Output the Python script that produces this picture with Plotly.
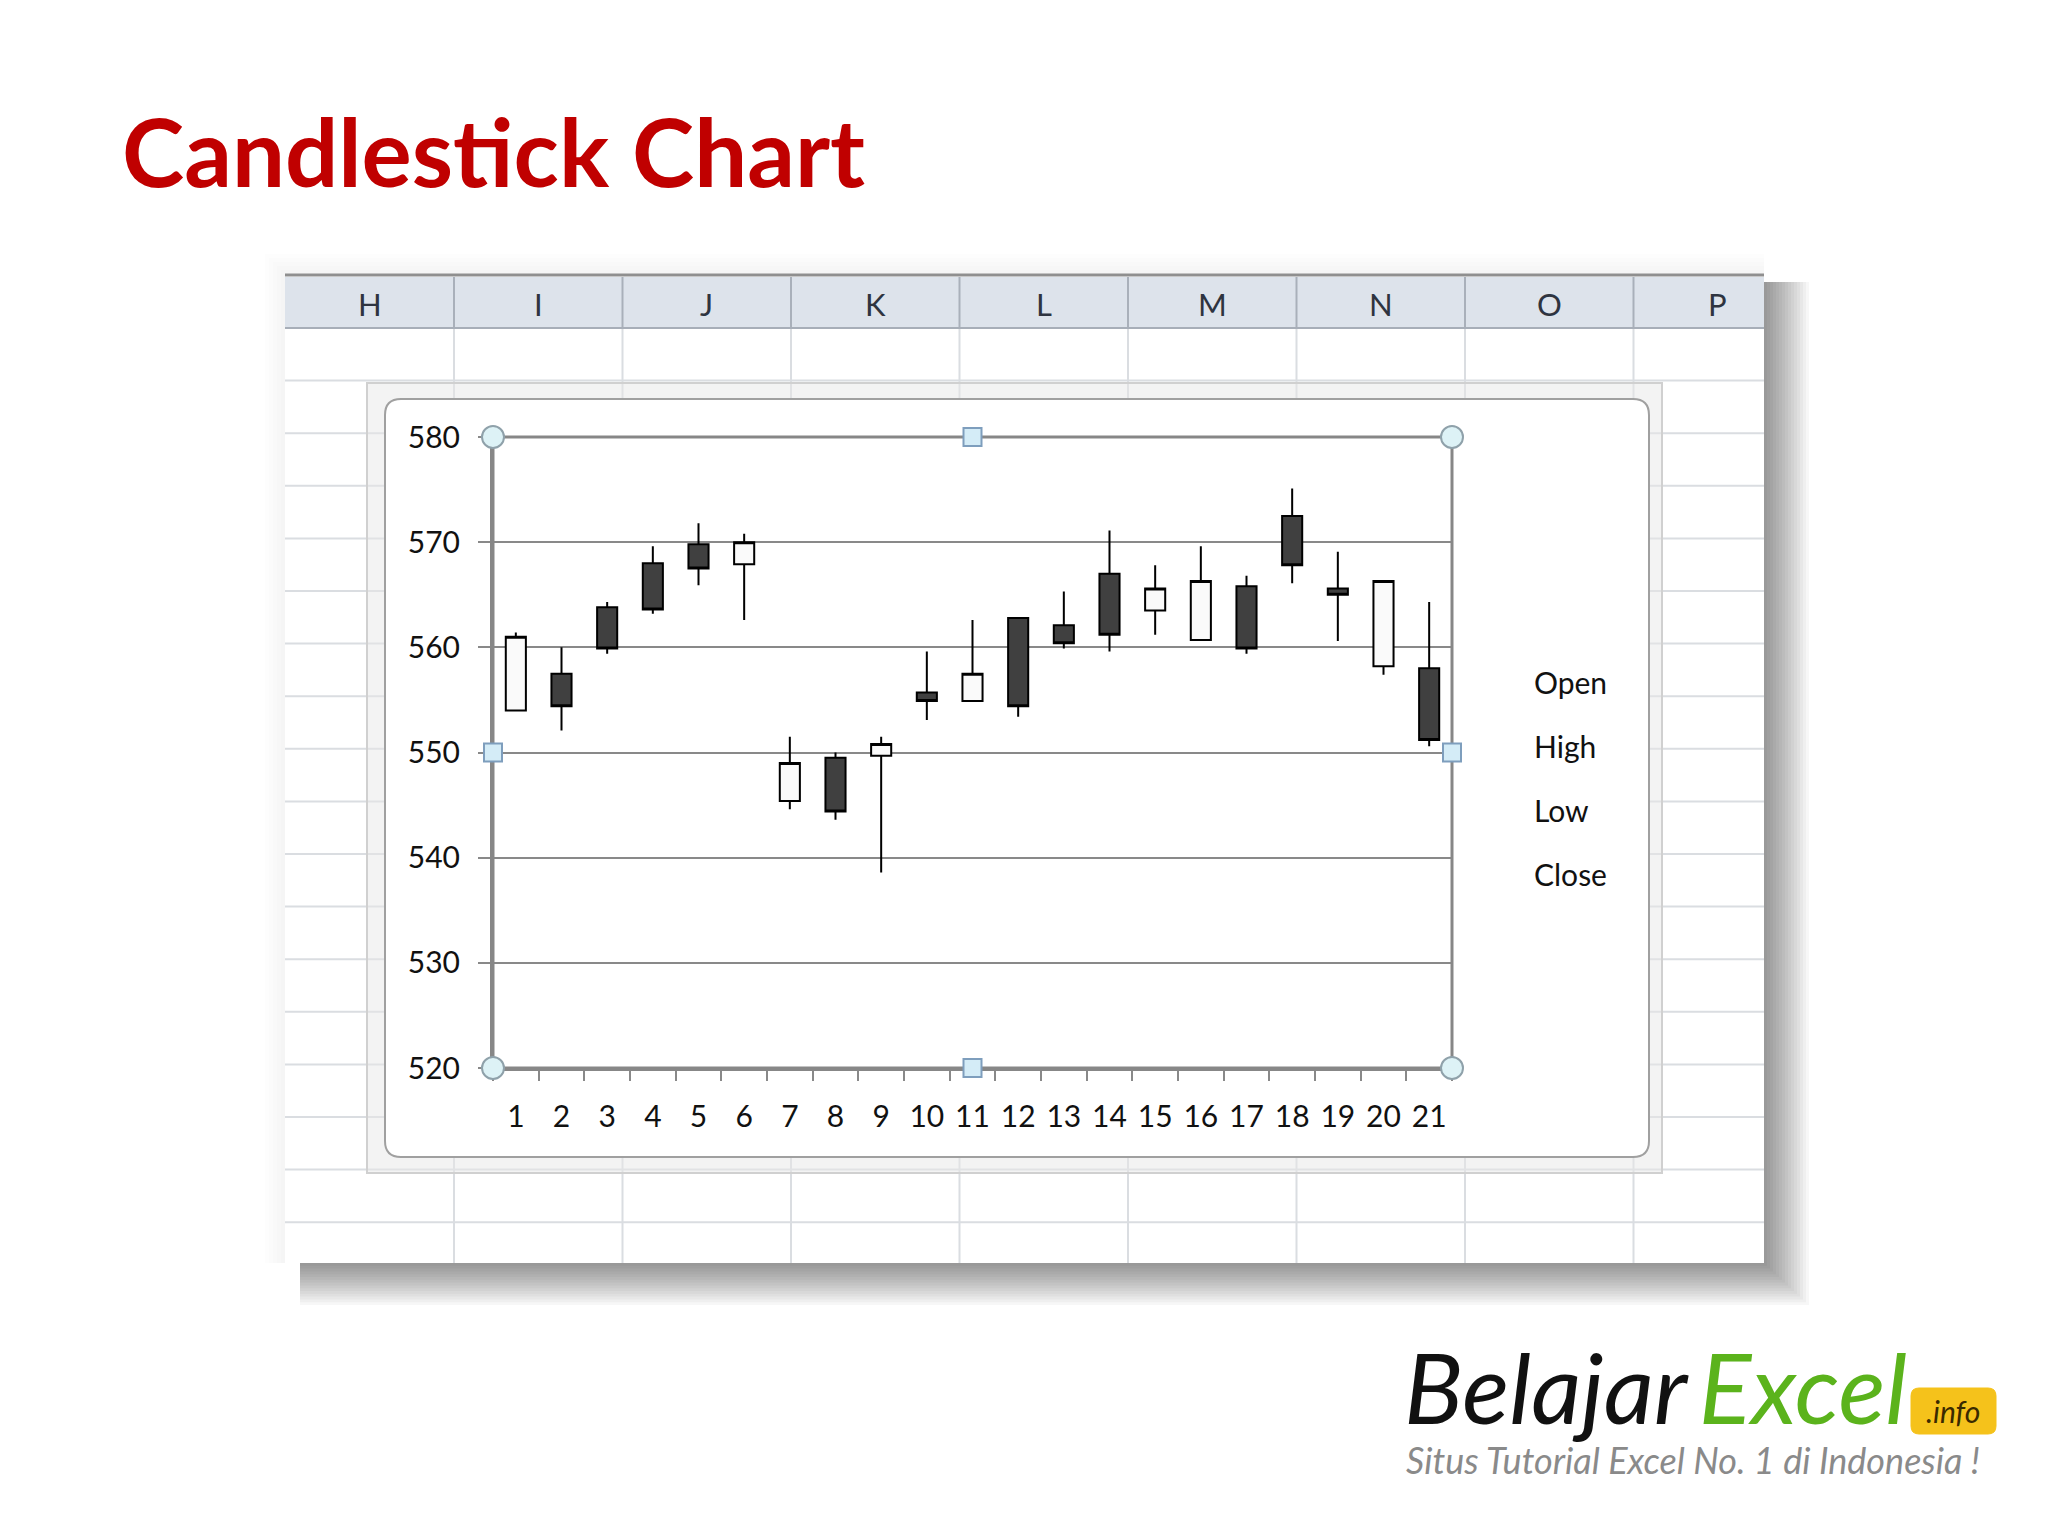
import plotly.graph_objects as go

# candle data (21 periods)
days = [str(i) for i in range(1, 22)]
open_ = [554.0, 557.5, 563.8, 568.0, 569.8, 567.9, 545.4, 549.5, 549.7, 555.7, 554.9,
         562.8, 562.1, 567.0, 563.5, 560.7, 565.8, 572.5, 565.6, 558.2, 558.0]
high = [561.4, 560.0, 564.3, 569.6, 571.8, 570.8, 551.5, 550.0, 551.5, 559.6, 562.6,
        562.8, 565.3, 571.1, 567.8, 569.6, 566.8, 575.1, 569.1, 566.3, 564.3]
low = [553.9, 552.1, 559.4, 563.2, 565.9, 562.6, 544.6, 543.6, 538.6, 553.1, 554.9,
       553.4, 559.9, 559.6, 561.2, 560.7, 559.4, 566.1, 560.6, 557.4, 550.6]
close = [561.0, 554.4, 559.9, 563.6, 567.5, 570.0, 549.0, 544.4, 550.8, 554.9, 557.5,
         554.4, 560.4, 561.2, 565.6, 566.3, 559.9, 567.8, 565.0, 566.3, 551.2]

legend_names = ['Open', 'High', 'Low', 'Close']
col_letters = ['H', 'I', 'J', 'K', 'L', 'M', 'N', 'O', 'P']

W, H = 2048, 1536
OFF = 8  # page body margin
# plot area in page pixels
PL, PR, PT, PB = 493, 1452, 437, 1068
FONT = 'Lato, Carlito, Calibri, sans-serif'


def px(X):
    return (X - PL) / (PR - PL)


def py(Y):
    return (PB - Y) / (PB - PT)


def rect(x0, y0, x1, y1, fill=None, line=None, lw=0, layer='below'):
    return dict(type='rect', xref='paper', yref='paper',
                x0=px(x0), x1=px(x1), y0=py(y0), y1=py(y1),
                fillcolor=fill, line=dict(color=line, width=lw), layer=layer)


def seg(x0, y0, x1, y1, color, lw, layer='below'):
    return dict(type='line', xref='paper', yref='paper',
                x0=px(x0), x1=px(x1), y0=py(y0), y1=py(y1),
                line=dict(color=color, width=lw), layer=layer)


def rounded(x0, y0, x1, y1, r, fill, line, lw, layer='below'):
    pts = lambda X, Y: '%f,%f' % (px(X), py(Y))
    path = ('M' + pts(x0 + r, y0) + ' L' + pts(x1 - r, y0) + ' Q' + pts(x1, y0) + ' ' + pts(x1, y0 + r) +
            ' L' + pts(x1, y1 - r) + ' Q' + pts(x1, y1) + ' ' + pts(x1 - r, y1) +
            ' L' + pts(x0 + r, y1) + ' Q' + pts(x0, y1) + ' ' + pts(x0, y1 - r) +
            ' L' + pts(x0, y0 + r) + ' Q' + pts(x0, y0) + ' ' + pts(x0 + r, y0) + ' Z')
    return dict(type='path', xref='paper', yref='paper', path=path,
                fillcolor=fill, line=dict(color=line, width=lw), layer=layer)


fig = go.Figure()

fig.add_trace(go.Candlestick(
    x=days, open=open_, high=high, low=low, close=close,
    increasing=dict(fillcolor='#FAFAFA', line=dict(color='#000000', width=2)),
    decreasing=dict(fillcolor='#404040', line=dict(color='#000000', width=2)),
    whiskerwidth=0, showlegend=False, hoverinfo='skip'))

shapes = []

# soft glow around the sheet, then the drop shadow
for i in range(6):
    shapes.append(rect(285 - i * 4, 274 - i * 4, 1764, 1263, fill='rgba(0,0,0,0.008)'))
for i in range(16):
    shapes.append(rect(300, 282, 1764 + i * 3.0, 1263 + i * 2.8, fill='rgba(0,0,0,0.03)'))

# spreadsheet
SX0, SX1, SY0, SY1 = 285, 1764, 274, 1263
shapes.append(rect(SX0, SY0, SX1, SY1, fill='white'))
shapes.append(rect(SX0, 277, SX1, 328, fill='#DDE3EB'))
col_w = 168.5
col_edges = [454 + col_w * k for k in range(8)]
row_h = 52.6
for k in range(1, 18):
    Y = 328 + row_h * k
    shapes.append(seg(SX0, Y, SX1, Y, '#DADDE1', 2))
for X in col_edges:
    shapes.append(seg(X, 328, X, SY1, '#DADDE1', 2))
    shapes.append(seg(X, 277, X, 328, '#A9B0BA', 2))
shapes.append(seg(SX0, 275, SX1, 275, '#8F8F8F', 3))
shapes.append(seg(SX0, 328, SX1, 328, '#A7AEB8', 2))

# chart object frame and chart area
shapes.append(rect(367, 383, 1662, 1173, fill='rgba(232,232,232,0.5)', line='#D0D0D0', lw=2))
shapes.append(rounded(385, 399, 1649, 1157, 16, 'white', '#A0A0A0', 2))

# plot area border (selected)
shapes.append(dict(type='rect', xref='paper', yref='paper', x0=0, x1=1, y0=0, y1=1,
                   line=dict(color='#878787', width=3), layer='above'))

# selection handles
for hx, hy in [(0, 1), (1, 1), (0, 0), (1, 0)]:
    shapes.append(dict(type='circle', xref='paper', yref='paper', xsizemode='pixel', ysizemode='pixel',
                       xanchor=hx, yanchor=hy, x0=-11, x1=11, y0=-11, y1=11,
                       fillcolor='#DDF2F6', line=dict(color='#8FA1AA', width=2), layer='above'))
for hx, hy in [(0.5, 1), (0.5, 0), (0, 0.5), (1, 0.5)]:
    shapes.append(dict(type='rect', xref='paper', yref='paper', xsizemode='pixel', ysizemode='pixel',
                       xanchor=hx, yanchor=hy, x0=-9, x1=9, y0=-9, y1=9,
                       fillcolor='#D4ECF7', line=dict(color='#7E9EBD', width=2), layer='above'))

# .info badge
shapes.append(rounded(1911, 1388, 1996, 1434, 8, '#F5C21B', '#F5C21B', 1, layer='above'))

annotations = []
annotations.append(dict(text='<b>Candlestick Chart</b>', x=px(120), y=py(150), xref='paper', yref='paper',
                        xanchor='left', yanchor='middle', showarrow=False,
                        font=dict(family=FONT, size=94, color='#C00000')))
for i, letter in enumerate(col_letters):
    left = SX0 if i == 0 else col_edges[i - 1]
    right = col_edges[i] if i < len(col_edges) else left + col_w
    annotations.append(dict(text=letter, x=px((left + right) / 2), y=py(304), xref='paper', yref='paper',
                            xanchor='center', yanchor='middle', showarrow=False,
                            font=dict(family=FONT, size=31, color='#2E3440')))
for i, name in enumerate(legend_names):
    annotations.append(dict(text=name, x=px(1532), y=py(682 + i * 64), xref='paper', yref='paper',
                            xanchor='left', yanchor='middle', showarrow=False,
                            font=dict(family=FONT, size=30, color='#111111')))
annotations.append(dict(text="<i>Belajar&#8201;<span style='color:#5BB31C'>Excel</span></i>",
                        x=px(1402), y=py(1386), xref='paper', yref='paper',
                        xanchor='left', yanchor='middle', showarrow=False,
                        font=dict(family=FONT, size=98, color='#111111')))
annotations.append(dict(text='<i>.info</i>', x=px(1953), y=py(1411), xref='paper', yref='paper',
                        xanchor='center', yanchor='middle', showarrow=False,
                        font=dict(family=FONT, size=30, color='#3A2A00')))
annotations.append(dict(text='<i>Situs Tutorial Excel No. 1 di Indonesia !</i>',
                        x=px(1404), y=py(1460), xref='paper', yref='paper',
                        xanchor='left', yanchor='middle', showarrow=False,
                        font=dict(family=FONT, size=36, color='#8A8A8A')))

fig.update_layout(
    width=W, height=H,
    margin=dict(l=PL - OFF, r=W - PR + OFF, t=PT - OFF, b=H - PB + OFF, autoexpand=False),
    paper_bgcolor='white', plot_bgcolor='rgba(0,0,0,0)',
    showlegend=False, boxgap=0.56, boxgroupgap=0,
    shapes=shapes, annotations=annotations,
    font=dict(family=FONT, size=30, color='#111111'),
)
fig.update_xaxes(type='category', rangeslider_visible=False, showgrid=False,
                 ticks='outside', ticklen=10, tickwidth=2, tickcolor='#898989',
                 tickson='boundaries', ticklabelstandoff=20,
                 showline=True, linecolor='#878787', linewidth=3,
                 tickfont=dict(family=FONT, size=30, color='#111111'))
fig.update_yaxes(range=[520, 580], dtick=10, showgrid=True, gridcolor='#898989', gridwidth=2,
                 ticks='outside', ticklen=12, tickwidth=2, tickcolor='#898989',
                 ticklabelstandoff=12, zeroline=False,
                 showline=True, linecolor='#878787', linewidth=3,
                 tickfont=dict(family=FONT, size=30, color='#111111'))

fig.write_html("out.html")
